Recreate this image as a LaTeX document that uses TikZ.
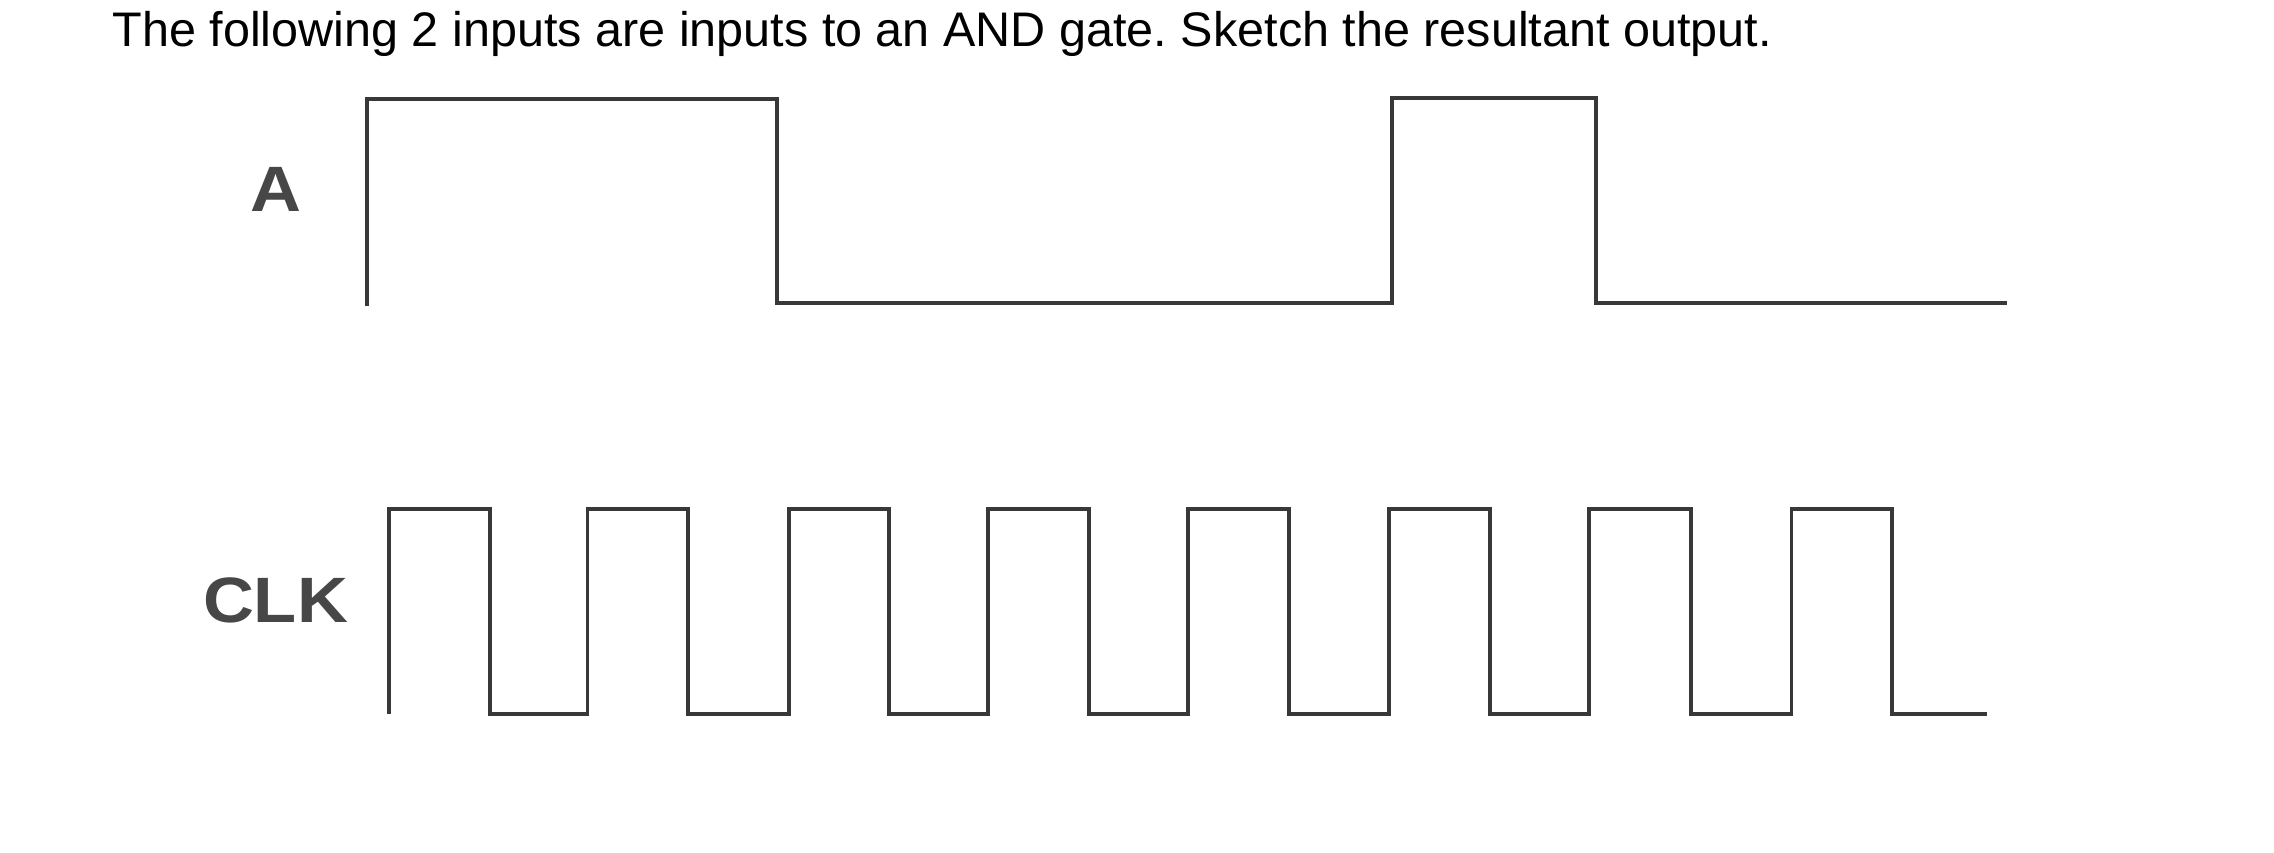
\documentclass[tikz,border=0pt]{standalone}
\usepackage{fontspec}
\setmainfont{Liberation Sans}
\frenchspacing
\begin{document}
\begin{tikzpicture}[x=1pt,y=-1pt,
  wave/.style={line width=2.6pt,color=black!78,line join=miter},
  lbl/.style={font=\fontsize{44}{48}\selectfont\bfseries,text=black!72,inner sep=0,xscale=1.1}]
\useasboundingbox (0,0) rectangle (1560,584.5);
\node[anchor=base west,inner sep=0,font=\fontsize{33.3}{36}\selectfont] (title) at (77,32) {The following 2 inputs are inputs to an AND gate. Sketch the resultant output.};
\node[lbl] (la) at (189,130) {A};
\node[lbl] (lc) at (189,412) {CLK};
\draw[wave] (252,210) -- (252,68) -- (533,68) -- (533,208) -- (955,208) -- (955,67) -- (1095,67) -- (1095,208) -- (1377,208);
\draw[wave] (267,490) \foreach \r/\f in {267/336,403/472,541/610,678/747,815/884,953/1022,1090/1160,1229/1298} {-- (\r,490) -- (\r,349) -- (\f,349) -- (\f,490)} -- (1363,490);
\end{tikzpicture}
\end{document}
